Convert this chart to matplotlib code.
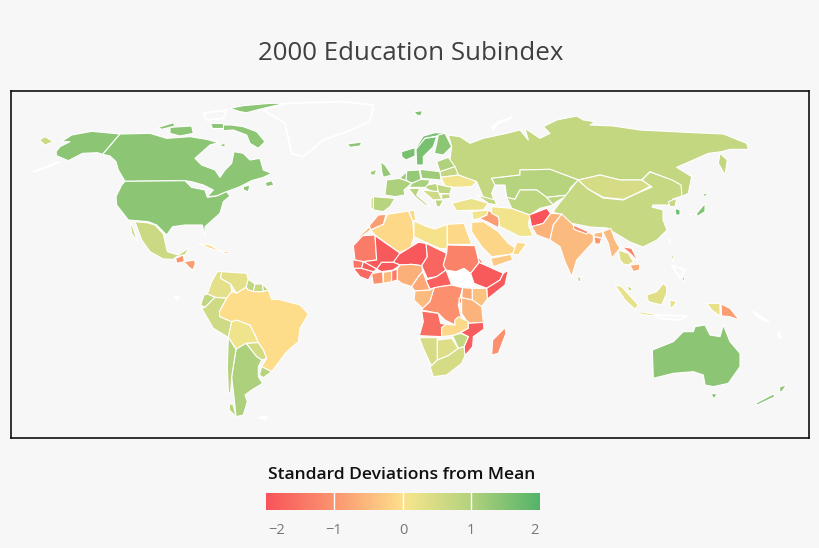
import matplotlib
matplotlib.use("Agg")
import matplotlib.pyplot as plt
from matplotlib.colors import LinearSegmentedColormap, Normalize
from matplotlib.patches import Polygon
import numpy as np

TITLE = "2000 Education Subindex"
LEGEND_TITLE = "Standard Deviations from Mean"
LEGEND_TICKS = [-2, -1, 0, 1, 2]

N_AM = (10, 90)
EUR = (340, 100)
AFR = (340, 205)
ASIA = (440, 110)
OCE = (520, 190)
LAT = (130, 210)
PX = (0, 0)

COUNTRIES = {
 "Alaska": (1.4, N_AM, [[(138,185),(150,170),(180,155),(155,155),(185,135),(245,124),(330,132),(278,193),(262,188),(218,190),(175,212),(158,205),(140,197)]]),
 "Canada": (1.4, N_AM, [[(330,132),(420,130),(470,145),(540,140),(590,148),(625,158),(600,165),(555,205),(575,225),(615,240),(630,262),(645,240),(665,220),(672,185),(700,190),(720,210),(750,205),(760,240),(785,250),(760,262),(725,272),(690,290),(650,305),(620,318),(592,320),(610,300),(580,285),(545,275),(525,272),(345,274),(325,240),(318,215),(300,198),(278,193)],
   [(765,278),(785,272),(792,285),(770,290)],[(640,105),(665,105),(700,110),(740,125),(765,155),(745,175),(720,160),(710,135),(670,120),(640,122)],
   [(480,112),(545,108),(550,130),(510,138),(480,130)],[(445,112),(490,98),(495,108),(455,118)],[(660,55),(700,47),(780,40),(825,40),(760,55),(710,68),(690,65)],
   [(600,100),(640,100),(640,115),(605,115)],[(625,165),(645,160),(645,172)],[(700,290),(720,285),(715,305),(700,300)]]),
 "USA": (1.4, N_AM, [[(345,274),(525,272),(545,292),(585,300),(592,322),(620,318),(650,305),(660,318),(640,335),(630,370),(585,410),(585,440),(577,405),(525,405),(488,410),(470,435),(440,405),(415,395),(355,390),(320,345),(318,320),(335,285)]]),
 "Chukotka": (0.65, N_AM, [[(88,150),(105,140),(130,155),(105,165)]]),
 "Mexico": (0.65, LAT, [[(15,35),(50,38),(75,45),(100,72),(112,125),(145,135),(178,112),(165,135),(140,140),(130,148),(100,147),(60,125),(35,90)],[(0,35),(10,55),(22,95),(5,70)]]),
 "Guatemala": (-1.0, LAT, [[(137,145),(160,135),(163,155),(140,160)]]),
 "Nicaragua": (-0.9, LAT, [[(162,155),(195,150),(195,165),(188,180),(175,170)]]),
 "Cuba": (-0.05, LAT, [[(205,100),(240,105),(280,128),(240,115)]]),
 "Haiti": (-0.2, LAT, [[(280,125),(296,124),(296,130),(280,130)]]),
 "Colombia": (0.3, LAT, [[(262,185),(275,185),(272,205),(302,222),(305,245),(290,265),(255,262),(232,252),(245,215)]]),
 "Venezuela": (0.3, LAT, [[(275,185),(350,190),(355,210),(348,232),(320,250),(310,235),(302,222),(272,205)]]),
 "Guyana": (0.8, LAT, [[(355,208),(375,222),(370,245),(355,240),(348,232)]]),
 "Suriname": (0.7, LAT, [[(375,222),(398,222),(400,245),(370,245)]]),
 "Guiana": (0.9, LAT, [[(398,222),(415,240),(400,245)]]),
 "Ecuador": (0.8, LAT, [[(222,255),(232,252),(255,262),(225,292),(212,285)]]),
 "Peru": (0.6, LAT, [[(225,292),(255,262),(290,265),(268,305),(270,320),(305,335),(295,382),(250,355),(215,295)]]),
 "Bolivia": (0.15, LAT, [[(305,335),(320,330),(360,345),(380,385),(385,398),(348,400),(320,418),(300,390),(295,382)]]),
 "Brazil": (-0.05, LAT, [[(290,265),(305,245),(320,250),(348,232),(355,240),(370,245),(400,245),(415,240),(425,268),(445,268),(510,285),(535,312),(510,355),(505,395),(470,425),(440,465),(425,485),(395,470),(410,445),(400,420),(385,398),(380,385),(360,345),(320,330),(305,335),(270,320),(268,305)]]),
 "Paraguay": (0.55, LAT, [[(348,400),(385,398),(400,420),(410,445),(395,450),(380,440)]]),
 "Uruguay": (0.95, LAT, [[(395,470),(425,485),(400,503),(388,495)]]),
 "Argentina": (1.05, LAT, [[(318,418),(348,400),(380,440),(395,450),(385,470),(385,500),(398,520),(365,540),(345,555),(352,575),(340,615),(318,620),(312,560),(305,500)]]),
 "Chile": (0.95, LAT, [[(295,382),(300,390),(318,418),(305,500),(302,548),(295,548),(292,470)],[(298,580),(310,585),(318,620),(298,600)]]),
 "Morocco": (-0.9, AFR, [[(88,62),(115,30),(138,28),(130,58),(92,75)]]),
 "W Sahara": (-0.5, AFR, [[(40,122),(62,90),(88,65),(92,75),(68,92)]]),
 "Algeria": (-0.1, AFR, [[(143,28),(205,18),(218,48),(222,95),(212,128),(178,143),(105,90),(92,75),(130,58)]]),
 "Tunisia": (-0.1, AFR, [[(207,18),(222,15),(228,45),(218,48)]]),
 "Libya": (0.05, AFR, [[(222,48),(260,65),(285,72),(322,58),(322,132),(298,130),(258,112),(222,95)]]),
 "Egypt": (-0.1, AFR, [[(322,58),(372,55),(395,118),(322,118)]]),
 "Mauritania": (-1.4, AFR, [[(40,122),(68,92),(105,90),(110,165),(70,170),(45,165)]]),
 "Mali": (-1.9, AFR, [[(105,92),(178,143),(178,150),(160,172),(125,172),(110,192),(70,170),(110,165)]]),
 "Niger": (-1.95, AFR, [[(178,147),(235,112),(258,115),(262,155),(245,182),(215,178),(180,180),(160,172)]]),
 "Chad": (-1.75, AFR, [[(258,115),(320,145),(310,180),(318,195),(290,215),(262,220),(245,182),(262,155)]]),
 "Sudan": (-1.3, AFR, [[(322,120),(405,122),(412,150),(418,172),(392,205),(372,190),(348,200),(318,195),(310,180),(320,145)]]),
 "Ethiopia": (-1.9, AFR, [[(418,172),(430,178),(490,205),(480,225),(440,250),(402,235),(392,205)]]),
 "Somalia": (-1.9, AFR, [[(505,195),(495,240),(442,282),(440,250),(480,225),(490,205)]]),
 "Eritrea": (-1.5, AFR, [[(412,150),(432,178),(418,172)]]),
 "Senegal": (-1.5, AFR, [[(38,165),(45,165),(70,170),(65,190),(40,190)]]),
 "Guinea": (-1.7, AFR, [[(40,190),(65,190),(100,200),(95,208),(85,225),(60,215)]]),
 "Mali S": (-1.9, AFR, [[(70,170),(110,192),(100,200),(65,190)]]),
 "Burkina": (-1.9, AFR, [[(125,172),(160,172),(180,180),(160,195),(125,200),(110,192)]]),
 "Ivory Coast": (-1.1, AFR, [[(100,205),(128,200),(130,235),(100,238),(95,208)]]),
 "Ghana": (-0.5, AFR, [[(130,202),(155,198),(155,230),(130,235)]]),
 "Benin": (-1.4, AFR, [[(155,198),(172,192),(172,225),(155,230)]]),
 "Nigeria": (-0.65, AFR, [[(172,192),(180,180),(215,178),(245,182),(248,200),(235,215),(215,245),(185,235),(172,225)]]),
 "Cameroon": (-0.75, AFR, [[(248,200),(258,225),(270,255),(225,258),(215,245),(235,215)]]),
 "CAR": (-1.8, AFR, [[(258,225),(290,215),(318,195),(335,240),(300,245),(270,252)]]),
 "Congo": (-0.5, AFR, [[(225,258),(270,255),(283,248),(270,290),(248,310),(222,285)]]),
 "DRC": (-1.1, AFR, [[(283,248),(300,245),(335,240),(368,248),(355,300),(365,345),(345,345),(345,360),(315,345),(295,325),(245,315),(248,310),(270,290)]]),
 "Uganda": (-0.75, AFR, [[(368,248),(397,250),(397,285),(365,278)]]),
 "Kenya": (-0.4, AFR, [[(397,250),(440,250),(442,282),(425,305),(397,285)]]),
 "Rwanda": (-0.9, AFR, [[(357,280),(365,278),(365,295),(358,295)]]),
 "Tanzania": (-0.6, AFR, [[(365,295),(365,278),(397,285),(425,305),(430,352),(385,355),(365,325)]]),
 "Angola": (-1.6, AFR, [[(245,318),(295,325),(302,355),(318,358),(305,368),(305,395),(238,392),(250,350)]]),
 "Zambia": (-0.1, AFR, [[(305,368),(318,358),(345,360),(345,345),(355,335),(385,350),(385,370),(345,390),(305,395)]]),
 "Mozambique": (-1.85, AFR, [[(385,355),(430,352),(432,372),(400,395),(398,425),(375,452),(372,425),(385,395),(362,383),(385,370)]]),
 "Namibia": (0.5, AFR, [[(238,398),(292,398),(292,465),(275,482),(268,470),(250,430)]]),
 "Botswana": (0.4, AFR, [[(292,405),(335,400),(355,430),(325,452),(292,465)]]),
 "Zimbabwe": (0.75, AFR, [[(338,392),(362,385),(385,395),(372,425),(355,430)]]),
 "South Africa": (0.5, AFR, [[(270,484),(275,482),(292,465),(325,452),(355,430),(372,425),(375,452),(365,475),(320,510),(280,515)]]),
 "Madagascar": (-1.1, AFR, [[(495,368),(498,385),(475,445),(455,450),(458,405)]]),
 "Saudi": (-0.15, AFR, [[(395,52),(430,50),(475,80),(505,115),(535,135),(510,148),(455,155),(425,125),(395,80)]]),
 "Yemen": (-0.3, AFR, [[(452,160),(512,148),(518,165),(460,185)]]),
 "Oman": (-0.1, AFR, [[(530,112),(560,115),(535,150),(518,148)]]),
 "Iraq": (-0.9, AFR, [[(445,15),(480,40),(475,68),(440,50),(418,40),(440,30)]]),
 "Syria": (0.1, AFR, [[(395,20),(445,15),(440,30),(418,40),(400,45)]]),
 "Iran": (0.1, ASIA, [[(155,290),(215,295),(270,315),(265,345),(280,378),(240,380),(180,350),(175,320),(155,310)]]),
 "Russia": (0.75, ASIA, [[(25,75),(60,80),(90,100),(130,85),(200,70),(240,60),(265,90),(255,55),(300,85),(330,70),(310,50),(350,30),(410,18),(430,30),(465,35),(450,45),(520,48),(600,60),(700,65),(760,68),(850,72),(920,100),(925,118),(870,118),(845,125),(805,130),(710,172),(755,200),(745,250),(725,260),(722,225),(695,210),(630,185),(605,210),(540,210),(480,195),(415,210),(330,178),(240,180),(240,195),(155,205),(165,225),(155,250),(165,278),(130,262),(110,215),(55,195),(28,160),(35,110)],[(840,130),(862,150),(855,195),(835,160)]]),
 "Kazakhstan": (0.95, ASIA, [[(155,205),(240,195),(240,180),(330,178),(415,210),(390,235),(385,255),(320,262),(290,240),(240,240),(225,268),(200,262),(195,225),(165,225)]]),
 "Uzbekistan": (0.85, ASIA, [[(200,262),(225,268),(240,240),(290,240),(320,262),(340,285),(300,295),(270,315),(215,295)]]),
 "Kyrgyz": (0.85, ASIA, [[(320,262),(385,255),(345,278),(340,285)]]),
 "Mongolia": (0.5, ASIA, [[(415,210),(480,195),(540,210),(605,210),(632,228),(590,250),(550,268),(490,262),(440,235)]]),
 "China": (0.7, PX, [[(578,180),(588,189),(603,198),(623,200),(638,193),(652,187),(642,180),(650,172),(672,180),(681,185),(682,196),(673,199),(670,205),(653,205),(652,207),(663,210),(663,220),(667,230),(657,240),(643,247),(630,242),(615,233),(607,228),(590,227),(570,223),(562,215),(553,212),(558,205),(570,190)]]),
 "Afghanistan": (-2.0, OCE, [[(28,75),(80,55),(92,70),(70,100),(35,110)]]),
 "Pakistan": (-0.6, OCE, [[(35,110),(70,100),(92,70),(125,72),(100,105),(90,150),(50,135)]]),
 "India": (-0.5, OCE, [[(125,72),(160,105),(220,135),(220,155),(170,210),(155,260),(135,215),(120,170),(90,150),(100,105)],[(222,130),(248,125),(248,145),(222,140)]]),
 "Nepal": (-1.2, OCE, [[(160,105),(205,125),(200,132),(162,118)]]),
 "Bangladesh": (-1.0, OCE, [[(222,140),(245,145),(240,162),(225,162)]]),
 "Myanmar": (-0.5, OCE, [[(248,125),(272,115),(285,150),(300,175),(275,205),(265,160)]]),
 "Thailand": (0.4, OCE, [[(295,180),(325,190),(340,215),(325,225),(310,222),(300,210)]]),
 "Laos": (-1.3, OCE, [[(305,170),(335,175),(355,215),(330,190)]]),
 "Cambodia": (-0.7, OCE, [[(330,225),(360,222),(358,240),(340,245)]]),
 "Sri Lanka": (0.9, OCE, [[(172,260),(182,262),(182,275),(175,275)]]),
 "Malaysia": (0.7, OCE, [[(320,285),(335,295),(335,305),(325,300)]]),
 "Sumatra": (0.25, OCE, [[(285,285),(305,290),(355,345),(345,358),(315,330)]]),
 "Java": (0.25, OCE, [[(360,365),(400,372),(400,378),(360,372)]]),
 "Borneo": (0.35, OCE, [[(380,315),(410,305),(430,280),(440,290),(440,310),(425,345),(385,335)]]),
 "Sulawesi": (0.25, OCE, [[(450,330),(470,335),(460,350),(450,355)]]),
 "Papua": (0.25, OCE, [[(560,340),(600,340),(600,378),(575,360)]]),
 "PNG": (-0.9, OCE, [[(603,342),(630,355),(658,390),(630,380),(605,378)]]),
 "Philippines": (1.1, OCE, [[(445,145),(450,145),(449,158)],[(452,195),(460,195),(458,215)],[(485,262),(496,262),(490,275)]]),
 "Australia": (1.4, OCE, [[(397,480),(460,455),(490,425),(520,425),(525,410),(555,405),(570,435),(600,440),(610,405),(630,455),(660,490),(660,530),(625,580),(580,590),(555,585),(550,555),(520,545),(460,550),(400,565)],[(575,610),(592,612),(583,625),(577,622)]]),
 "New Zealand": (1.4, OCE, [[(707,640),(760,612),(765,620),(712,645)],[(780,590),(800,585),(785,605),(778,605)]]),
 "Japan": (1.5, OCE, [[(530,70),(555,40),(555,65),(530,80)],[(545,10),(565,12),(555,20)],[(505,75),(530,72),(520,78)]]),
 "S Korea": (1.7, OCE, [[(465,55),(480,60),(480,75),(468,75)]]),
 "N Korea": (0.7, OCE, [[(445,35),(470,25),(465,50),(450,50)]]),
 "Iceland": (1.4, EUR, [[(22,132),(65,126),(60,138),(30,142)]]),
 "Svalbard": (1.5, EUR, [[(222,35),(248,32),(242,48),(230,45)]]),
 "Ireland": (1.2, EUR, [[(90,215),(110,208),(105,225),(92,225)]]),
 "UK": (1.3, EUR, [[(122,185),(135,195),(155,225),(130,232),(125,215)]]),
 "Norway": (1.6, EUR, [[(185,155),(225,143),(225,168),(198,180),(185,170)],[(228,143),(250,108),(285,98),(320,100),(290,108),(255,115),(235,145)]]),
 "Sweden": (1.6, EUR, [[(228,148),(255,115),(290,110),(280,140),(250,170),(250,195),(230,195)]]),
 "Finland": (1.4, EUR, [[(295,105),(315,100),(335,140),(310,165),(283,160),(290,130)]]),
 "Baltics": (1.0, EUR, [[(290,185),(325,172),(345,200),(300,215)]]),
 "Poland": (1.2, EUR, [[(240,208),(300,215),(303,240),(245,235)]]),
 "Belarus": (0.75, EUR, [[(300,215),(345,200),(355,225),(303,232)]]),
 "Germany": (1.3, EUR, [[(200,212),(238,210),(243,240),(215,250),(198,240)]]),
 "Benelux": (1.2, EUR, [[(178,235),(200,215),(198,242)]]),
 "France": (1.05, EUR, [[(140,240),(178,235),(198,242),(215,250),(192,270),(195,285),(165,290),(135,285)]]),
 "Spain": (0.9, EUR, [[(100,290),(165,295),(150,320),(130,335),(100,330)]]),
 "Portugal": (0.6, EUR, [[(93,295),(100,290),(100,330),(93,325)]]),
 "Italy": (0.9, EUR, [[(205,265),(240,265),(230,285),(270,320),(255,315),(225,290)]]),
 "Ukraine": (0.1, EUR, [[(303,232),(355,225),(410,245),(395,260),(345,262),(315,258)]]),
 "Romania": (0.8, EUR, [[(290,252),(315,258),(335,262),(330,282),(295,280)]]),
 "Bulgaria": (0.8, EUR, [[(305,282),(330,282),(330,295),(305,298)]]),
 "Austria": (1.1, EUR, [[(243,238),(270,240),(262,262),(208,262),(215,250)]]),
 "Hungary": (0.9, EUR, [[(262,255),(290,250),(295,280),(255,265)]]),
 "Balkans": (0.6, EUR, [[(245,270),(295,275),(305,298),(280,300)]]),
 "Greece": (0.9, EUR, [[(285,300),(310,300),(300,320),(290,320)]]),
 "Turkey": (0.2, EUR, [[(335,310),(395,295),(445,310),(430,330),(350,332)]]),
 "Caucasus": (0.8, EUR, [[(410,285),(465,300),(470,315),(445,310)]]),
}

# territories with no data: outline only
NO_DATA = {
 "Greenland": (N_AM, [(760,60),(830,40),(1000,35),(1090,45),(1080,95),(1010,125),(940,150),(880,200),(845,190),(825,100)]),
 "South Sudan": (AFR, [(318,195),(348,200),(372,190),(392,205),(402,245),(368,248),(335,240)]),
 "Novaya Zemlya": (ASIA, [(155,50),(215,22),(175,35),(160,58)]),
 "Lesser Sunda": (OCE, [(405,375),(500,378),(480,390),(420,385)]),
 "Pacific isles": (OCE, [(700,365),(745,395),(720,385)]),
 "New Caledonia": (OCE, [(775,425),(785,445),(775,440)]),
 "Aleutians": (N_AM, [(70,245),(150,215),(90,240)]),
 "Arctic isles": (N_AM, [(580,70),(650,60),(640,85),(590,90)]),
 "Borneo N": (OCE, [(455,225),(495,240),(480,265)]),
 "Falklands": (LAT, [(388,622),(412,620),(405,628)]),
 "Galapagos": (LAT, [(133,260),(148,262),(140,268)]),
}

STOPS = [(-2.0, "#f8545a"), (-1.0, "#fb9670"), (0.0, "#fde08b"), (0.1, "#f2e48c"), (1.0, "#b2d27d"), (2.0, "#55b469")]
norm = Normalize(-2, 2)
cmap = LinearSegmentedColormap.from_list("edu", [((v + 2) / 4, c) for v, c in STOPS])

BG = "#f7f7f7"
W, H = 820, 548
fig = plt.figure(figsize=(W / 100, H / 100), dpi=100, facecolor=BG)
plt.rcParams["font.family"] = ["Open Sans", "DejaVu Sans"]


def to_px(origin, pts):
    if origin == PX:
        return pts
    return [(origin[0] + x / 3, origin[1] + y / 3) for x, y in pts]


ax = fig.add_axes([11 / W, 1 - 437.5 / H, 798 / W, 346.5 / H], facecolor=BG)
ax.set_xlim(11, 809)
ax.set_ylim(437.5, 91)
ax.set_xticks([])
ax.set_yticks([])
for s in ax.spines.values():
    s.set_linewidth(1.2)
    s.set_color("#111111")

for name, (origin, pts) in NO_DATA.items():
    fc = "white" if name == "South Sudan" else BG
    ax.add_patch(Polygon(to_px(origin, pts), closed=True, fc=fc, ec="white", lw=1.4, joinstyle="round"))

for name, (val, origin, polys) in COUNTRIES.items():
    for pts in polys:
        ax.add_patch(Polygon(to_px(origin, pts), closed=True, fc=cmap(norm(val)), ec="white",
                             lw=0.8, joinstyle="round"))

fig.text(411 / W, 1 - 53 / H, TITLE, ha="center", va="center", fontsize=18.6, color="#404040")
fig.text(402 / W, 1 - 475 / H, LEGEND_TITLE, ha="center", va="center", fontsize=12.6,
         color="#111111", fontweight="semibold")

cax = fig.add_axes([266 / W, 1 - 510 / H, 275 / W, 17 / H])
grad = np.linspace(-2, 2, 400).reshape(1, -1)
cax.imshow(grad, aspect="auto", cmap=cmap, norm=norm, extent=[-2, 2, 0, 1])
cax.set_xlim(-2, 2.02)
cax.axis("off")
for t in LEGEND_TICKS[1:-1]:
    cax.axvline(t, color="white", lw=1)

TICK_X = {-2: 277, -1: 334, 0: 403, 1: 471, 2: 534}
for t in LEGEND_TICKS:
    fig.text(TICK_X[t] / W, 1 - 530 / H, str(t).replace("-", "\u2212"), ha="center", va="center",
             fontsize=10.5, color="#777777")

fig.savefig("out.png", dpi=100, facecolor=BG)
